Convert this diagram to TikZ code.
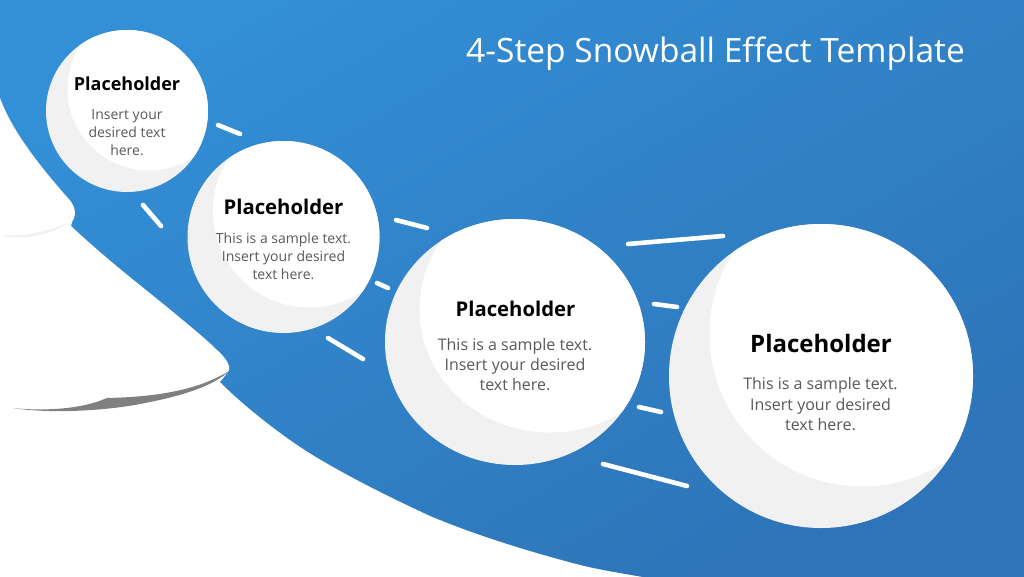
\documentclass[tikz,border=0pt]{standalone}
\usepackage{fontspec}
\setmainfont{Open Sans}
\definecolor{bgA}{RGB}{51,143,214}
\definecolor{bgB}{RGB}{46,116,184}
\definecolor{crescent}{RGB}{241,241,241}
\definecolor{bodytxt}{RGB}{89,89,89}
\newcommand{\ball}[6]{% cx cy rx ry ox oy
  \fill[crescent] (#1,#2) ellipse [x radius=#3, y radius=#4];
  \begin{scope}
    \clip (#1,#2) ellipse [x radius=#3, y radius=#4];
    \fill[white] (#1+#5,#2-#6) ellipse [x radius=#3+.5, y radius=#4+.5];
  \end{scope}}
\tikzset{
  streak/.style={white, line width=4.6pt, line cap=round},
  head/.style={font=\bfseries, text=black, inner sep=0pt, align=center},
  bodytext/.style={text=bodytxt, inner sep=0pt, align=center},
}
\begin{document}
\begin{tikzpicture}[x=1pt,y=-1pt]
\useasboundingbox (0,0) rectangle (1024,576);
\shade[shading=axis, top color=bgA, bottom color=bgB, shading angle=30] (-1,-1) rectangle (1025,578);
% snow hill
\fill[white] (0,98) .. controls (10,125) and (30,155) .. (67,197)
  .. controls (74,204) and (78,213) .. (72,222)
  -- (71,226) .. controls (105,258) and (140,285) .. (167,307)
  .. controls (185,322) and (205,338) .. (217,350)
  .. controls (226,358) and (232,367) .. (228,372)
  -- (220,382)
  .. controls (235,398) and (270,427) .. (300,447)
  .. controls (330,467) and (380,493) .. (430,516)
  .. controls (475,535) and (530,552) .. (580,565)
  .. controls (600,570) and (620,573) .. (648,578)
  -- (-1,578) -- (-1,98) -- cycle;
\fill[crescent] (0,235) .. controls (8,238) and (40,242) .. (70,222)
  .. controls (45,233) and (20,237) .. (0,235) -- cycle;
\fill[white!50!black] (13,408) .. controls (40,411) and (80,410) .. (107,398)
  .. controls (150,397) and (195,392) .. (229,371)
  .. controls (215,385) and (185,395) .. (150,402)
  .. controls (110,411) and (50,414) .. (13,408) -- cycle;
% streaks
\draw[streak] (218,125) -- (240,134);
\draw[streak] (143,205) -- (161,226);
\draw[streak] (396,220) -- (427,228);
\draw[streak] (377,283) -- (388,288);
\draw[streak] (328,338) -- (363,359);
\draw[streak] (628,244) -- (723,236);
\draw[streak] (654,304) -- (677,307);
\draw[streak] (639,407) -- (661,412);
\draw[streak] (603,464) -- (687,486);
% balls
\ball{127}{111}{81}{81}{22}{22}
\ball{283.5}{237}{96}{96}{26}{26}
\ball{515}{342}{130}{123}{35}{33}
\ball{821}{376}{152}{152}{41}{42}
% title
\node[text=white, inner sep=0pt, anchor=base, font=\fontsize{33.5}{40}\selectfont] (title) at (715.5,62) {4-Step Snowball Effect Template};
% texts
\node[head, font=\fontsize{18}{22}\selectfont\bfseries] (h1) at (127,84) {Placeholder};
\node[bodytext, font=\fontsize{14}{18}\selectfont] (b1) at (127,133) {Insert your\\desired text\\here.};
\node[head, font=\fontsize{20.3}{24}\selectfont\bfseries] (h2) at (283.5,207) {Placeholder};
\node[bodytext, font=\fontsize{14}{18}\selectfont] (b2) at (283.5,256) {This is a sample text.\\Insert your desired\\text here.};
\node[head, font=\fontsize{20.3}{24}\selectfont\bfseries] (h3) at (515.5,309) {Placeholder};
\node[bodytext, font=\fontsize{16}{20}\selectfont] (b3) at (515,365) {This is a sample text.\\Insert your desired\\text here.};
\node[head, font=\fontsize{24}{29}\selectfont\bfseries] (h4) at (821,343) {Placeholder};
\node[bodytext, font=\fontsize{16}{20.5}\selectfont] (b4) at (820.5,404.5) {This is a sample text.\\Insert your desired\\text here.};
\end{tikzpicture}
\end{document}
